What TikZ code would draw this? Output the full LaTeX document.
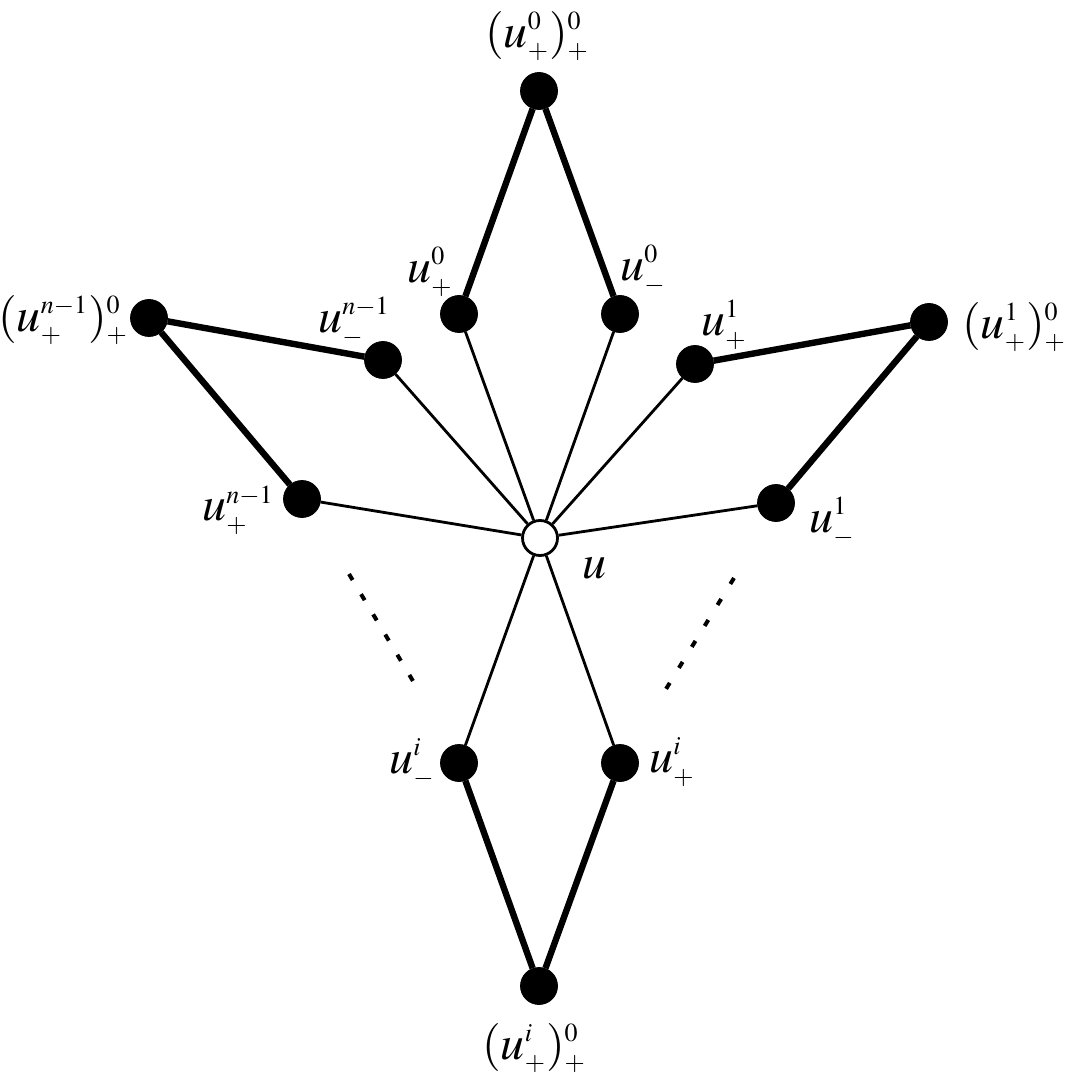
\documentclass[tikz,border=0pt]{standalone}
\usepackage{mathptmx}
\DeclareMathSizes{24}{24}{13}{10}
\begin{document}
\begin{tikzpicture}[x=0.5pt,y=-0.5pt,
  vtx/.style={circle,fill=black,draw=black,inner sep=0pt,minimum size=18.5pt},
  ctr/.style={circle,fill=white,draw=black,line width=1.4pt,inner sep=0pt,minimum size=17.5pt},
  thin/.style={line width=1.4pt},
  thick/.style={line width=3.2pt},
  dotsl/.style={line width=2pt,dash pattern=on 3.5pt off 8.26pt},
  dotsr/.style={line width=2pt,dash pattern=on 3.5pt off 8.8pt},
  lab/.style={font=\fontsize{24}{28}\selectfont,inner sep=0pt}]
\useasboundingbox (0,0) rectangle (1065,1074);
% vertices
\node[ctr] (u) at (540,538) {};
\node[vtx] (p0) at (459,314) {};
\node[vtx] (m0) at (620,314) {};
\node[vtx] (t0) at (539,91) {};
\node[vtx] (p1) at (695,364) {};
\node[vtx] (t1) at (929,322) {};
\node[vtx] (m1) at (776,503) {};
\node[vtx] (mn) at (383,360) {};
\node[vtx] (tn) at (149,318) {};
\node[vtx] (pn) at (302,499) {};
\node[vtx] (mi) at (459,763) {};
\node[vtx] (pi) at (620,763) {};
\node[vtx] (ti) at (539,986) {};
% thin edges
\foreach \v in {p0,m0,p1,m1,mn,pn,mi,pi} \draw[thin] (u) -- (\v);
% thick edges
\draw[thick] (p0) -- (t0) -- (m0);
\draw[thick] (p1) -- (t1) -- (m1);
\draw[thick] (mn) -- (tn) -- (pn);
\draw[thick] (mi) -- (ti) -- (pi);
% dotted
\coordinate (dl1) at (349,574);
\coordinate (dl2) at (413,681);
\coordinate (dr1) at (734,578);
\coordinate (dr2) at (666,689);
\draw[dotsl] (dl1) -- (dl2);
\draw[dotsr] (dr1) -- (dr2);
% labels
\node[lab] (lt0) at (537,36) {$(u_+^0)_+^0$};
\node[lab] (lp0) at (430,272) {$u_+^0$};
\node[lab] (lm0) at (643,270) {$u_-^0$};
\node[lab] (ltn) at (63,320) {$(u_+^{n-1})_+^0$};
\node[lab] (lmn) at (354,322) {$u_-^{n-1}$};
\node[lab] (lpn) at (238,510) {$u_+^{n-1}$};
\node[lab] (lp1) at (724,325) {$u_+^1$};
\node[lab] (lt1) at (1014,327) {$(u_+^1)_+^0$};
\node[lab] (lm1) at (832,522) {$u_-^1$};
\node[lab] (lu) at (594,568) {$u$};
\node[lab] (lmi) at (412,763) {$u_-^i$};
\node[lab] (lpi) at (672,762) {$u_+^i$};
\node[lab] (lti) at (534,1048) {$(u_+^i)_+^0$};
\end{tikzpicture}
\end{document}
